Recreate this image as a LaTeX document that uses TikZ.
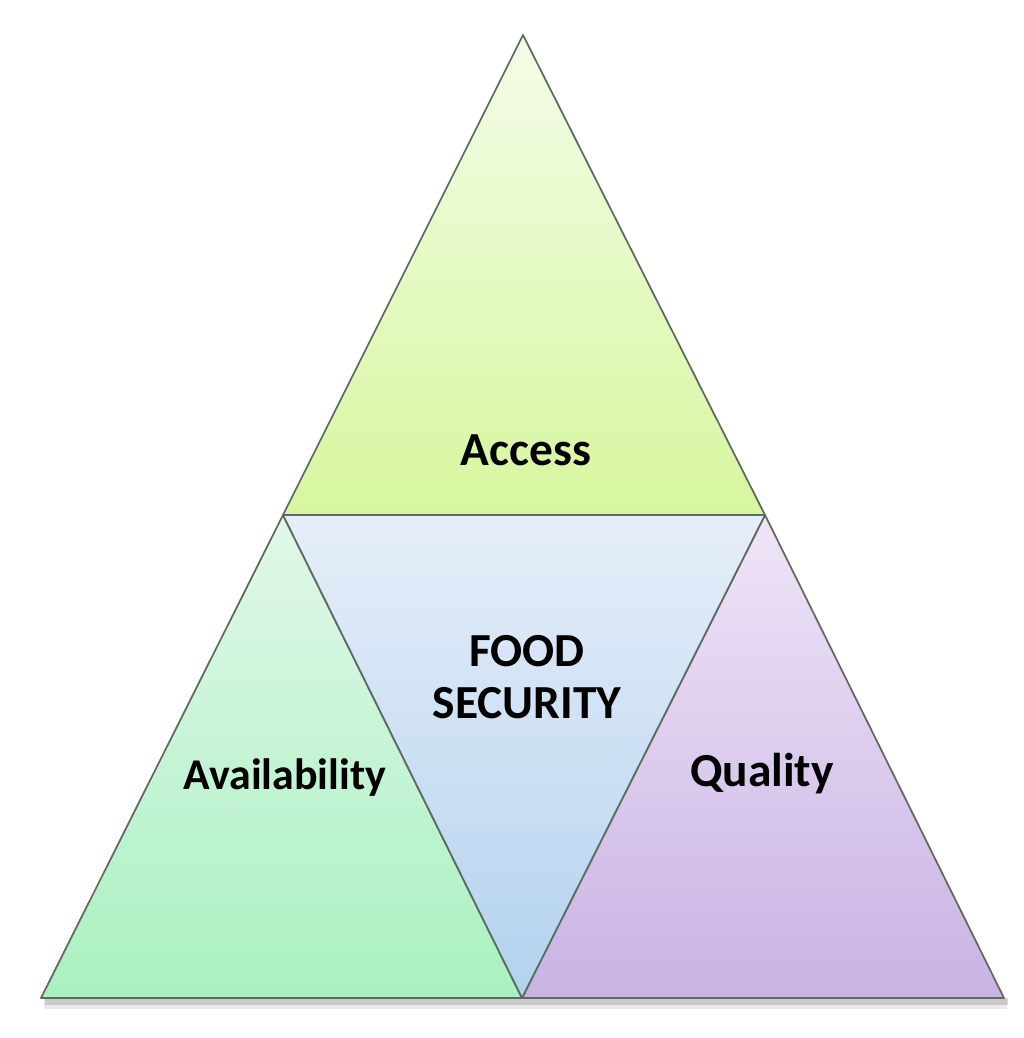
\documentclass[tikz,border=0pt]{standalone}
\usepackage{fontspec}
\setmainfont{Carlito}
\usetikzlibrary{positioning}

\definecolor{accessTop}{HTML}{F4FCE8}
\definecolor{accessBot}{HTML}{D6F79E}
\definecolor{foodTop}{HTML}{E6EEF9}
\definecolor{foodBot}{HTML}{B2D2EE}
\definecolor{availTop}{HTML}{E2F7EA}
\definecolor{availBot}{HTML}{A9F1C0}
\definecolor{qualTop}{HTML}{EFE5F7}
\definecolor{qualBot}{HTML}{C8B3E3}
\definecolor{edgegray}{HTML}{5F6A60}

\tikzset{
	part/.style={draw=edgegray,line width=1pt,line join=round},
	lbl/.style={font=\bfseries\fontsize{27}{30}\selectfont,text=black,align=center,inner sep=0pt}
}

\begin{document}
\begin{tikzpicture}[x=0.02cm,y=-0.02cm]
		\useasboundingbox (0,0) rectangle (1024,1038);
		\coordinate (apex) at (523,35);
		\coordinate (ml) at (283,515);
		\coordinate (mr) at (765,515);
		\coordinate (bl) at (41,998);
		\coordinate (bm) at (522,998);
		\coordinate (br) at (1004,998);
		% shadow
		\fill[black,opacity=0.14] ([shift={(4,7)}]bl) -- ([shift={(4,7)}]br) -- ([shift={(4,0)}]br) -- ([shift={(4,0)}]bl) -- cycle;
		\fill[black,opacity=0.08] ([shift={(3,11)}]bl) -- ([shift={(3,11)}]br) -- ([shift={(3,0)}]br) -- ([shift={(3,0)}]bl) -- cycle;
		\shade[part,top color=accessTop,bottom color=accessBot] (apex) -- (ml) -- (mr) -- cycle;
		\shade[part,top color=availTop,bottom color=availBot] (ml) -- (bl) -- (bm) -- cycle;
		\shade[part,top color=qualTop,bottom color=qualBot] (mr) -- (bm) -- (br) -- cycle;
		\shade[part,top color=foodTop,bottom color=foodBot] (ml) -- (mr) -- (bm) -- cycle;
		\node[lbl] (access) at (526,450) {Access};
		\node[lbl] (food) at (527,677) {FOOD\\SECURITY};
		\node[lbl,font=\bfseries\fontsize{25}{30}\selectfont] (avail) at (285,778) {Availability};
		\node[lbl] (quality) at (762,774) {Quality};
	\end{tikzpicture}
\end{document}
